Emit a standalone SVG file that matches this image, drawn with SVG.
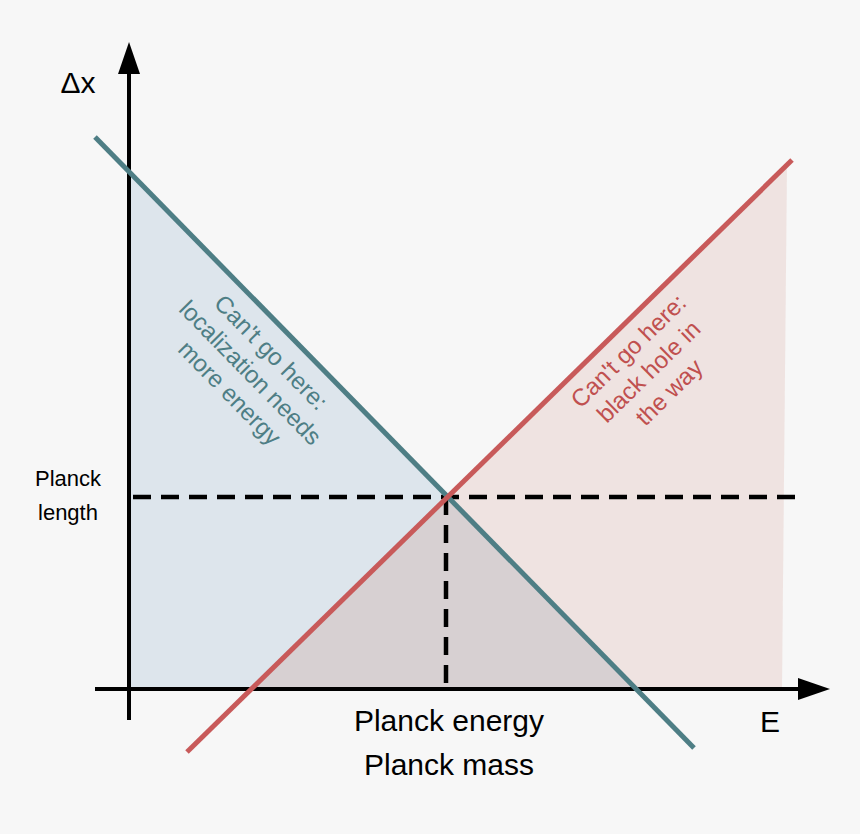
<svg xmlns="http://www.w3.org/2000/svg" width="860" height="834" viewBox="0 0 860 834">
<style>
text{font-family:"Liberation Sans","Noto Sans",sans-serif}
.ax{stroke:#000;stroke-width:4;fill:none}
.dash{stroke:#000;stroke-width:4.5;stroke-dasharray:18 10;fill:none}
</style>
<rect width="860" height="834" fill="#f7f7f7"/>
<g id="regions">
<polygon points="129,172 636,689 129,689" fill="#a9c1d6" fill-opacity="0.32"/>
<polygon points="251,689 787,165 782,689" fill="#dcb0a8" fill-opacity="0.28"/>
<polygon points="251,689 446,497 636,689" fill="#c8c0c0" fill-opacity="0.25"/>
</g>
<g id="connectors">
<line class="ax" x1="129" y1="720" x2="129" y2="50"/>
<path d="M129,42 L118,74 L140,74 Z" fill="#000"/>
<line class="ax" x1="95" y1="689" x2="800" y2="689"/>
<path d="M830,689 L798,678 L798,700 Z" fill="#000"/>
<line class="dash" x1="133" y1="497" x2="805" y2="497"/>
<line class="dash" x1="446" y1="497" x2="446" y2="686"/>
<line x1="95" y1="137" x2="694" y2="748" stroke="#4e7e85" stroke-width="5"/>
<line x1="187" y1="752" x2="792" y2="160" stroke="#c85a5a" stroke-width="5"/>
</g>
<g id="labels">
<text x="78" y="93" font-size="30" text-anchor="middle">Δx</text>
<text x="770" y="732" font-size="30" text-anchor="middle">E</text>
<text x="68" y="486" font-size="22" text-anchor="middle">Planck</text>
<text x="68" y="520" font-size="22" text-anchor="middle">length</text>
<text x="449" y="731" font-size="30" text-anchor="middle">Planck energy</text>
<text x="449" y="775" font-size="30" text-anchor="middle">Planck mass</text>
<g transform="translate(246,377) rotate(45.6)" fill="#4e7e85" font-size="24" text-anchor="middle">
<text x="0" y="-27">Can't go here:</text>
<text x="0" y="2">localization needs</text>
<text x="0" y="31">more energy</text>
</g>
<g transform="translate(653,376) rotate(-44.4)" fill="#c0504f" font-size="24" text-anchor="middle">
<text x="0" y="-27">Can't go here:</text>
<text x="0" y="2">black hole in</text>
<text x="0" y="31">the way</text>
</g>
</g>
</svg>
